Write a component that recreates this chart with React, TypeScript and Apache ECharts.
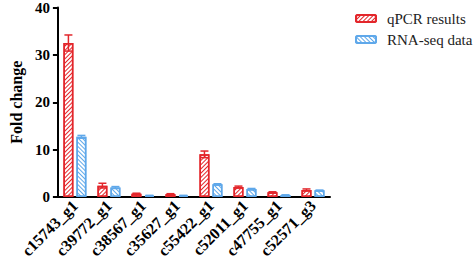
import React, { useEffect, useRef } from "react";
import * as echarts from "echarts";

const categories = ["c15743_g1", "c39772_g1", "c38567_g1", "c35627_g1", "c55422_g1", "c52011_g1", "c47755_g1", "c52571_g3"];
const qpcrValues = [32.5, 2.4, 0.7, 0.6, 9.0, 2.1, 1.0, 1.5];
const qpcrErrors = [1.7, 0.5, 0.1, 0.1, 0.7, 0.2, 0.1, 0.2];
const rnaValues = [12.7, 2.0, 0.3, 0.3, 2.7, 1.7, 0.4, 1.4];
const rnaErrors = [0.3, 0.2, 0.05, 0.05, 0.1, 0.1, 0.05, 0.05];
const yTicks = [0, 10, 20, 30, 40];

const RED = "#e3262b";
const BLUE = "#5fa8ea";
const FONT = "Times New Roman";

export default function App() {
  const ref = useRef<HTMLDivElement>(null);
  useEffect(() => {
    const chart = echarts.init(ref.current!, null, { renderer: "svg" });
    const errSeries = (vals: number[], errs: number[], color: string, offset: number, name: string) => ({
      type: "custom",
      name,
      z: 5,
      data: vals.map((v, i) => [i, v, errs[i]]),
      renderItem: (params: any, api: any) => {
        const i = api.value(0);
        const v = api.value(1);
        const e = api.value(2);
        const top = api.coord([i, v + e]);
        const bot = api.coord([i, v - e]);
        const x = top[0] + offset;
        const cap = 4;
        return {
          type: "group",
          children: [
            { type: "line", shape: { x1: x, y1: top[1], x2: x, y2: bot[1] }, style: { stroke: color, lineWidth: 1.5 } },
            { type: "line", shape: { x1: x - cap, y1: top[1], x2: x + cap, y2: top[1] }, style: { stroke: color, lineWidth: 1.5 } },
            { type: "line", shape: { x1: x - cap, y1: bot[1], x2: x + cap, y2: bot[1] }, style: { stroke: color, lineWidth: 1.5 } },
          ],
        };
      },
    });
    chart.setOption({
      animation: false,
      grid: { left: 42, right: 144, top: 7, bottom: 65 },
      legend: {
        orient: "vertical",
        left: 350,
        top: 5,
        itemWidth: 20,
        itemHeight: 7,
        itemGap: 4,
        data: ["qPCR results", "RNA-seq data"],
        textStyle: { fontFamily: FONT, fontSize: 15, color: "#222", lineHeight: 17, padding: [0, 0, 0, 6] },
      },
      xAxis: {
        type: "category",
        data: categories,
        axisLine: { lineStyle: { color: "#000", width: 2 } },
        axisTick: { alignWithLabel: true, length: 5, lineStyle: { color: "#000", width: 2 } },
        axisLabel: { rotate: 45, fontFamily: FONT, fontWeight: "bold", fontSize: 16, color: "#000", margin: 6 },
      },
      yAxis: {
        type: "value",
        min: yTicks[0],
        max: yTicks[yTicks.length - 1],
        interval: 10,
        name: "Fold change",
        nameLocation: "middle",
        nameGap: 30,
        nameTextStyle: { fontFamily: FONT, fontWeight: "bold", fontSize: 16, color: "#000" },
        splitLine: { show: false },
        axisLine: { show: true, lineStyle: { color: "#000", width: 2 } },
        axisTick: { show: true, length: 5, lineStyle: { color: "#000", width: 2 } },
        axisLabel: { fontFamily: FONT, fontWeight: "bold", fontSize: 15, color: "#000", margin: 8 },
      },
      series: [
        {
          type: "bar",
          name: "qPCR results",
          data: qpcrValues,
          barWidth: 10,
          barGap: "30%",
          itemStyle: {
            color: "#fff",
            borderColor: RED,
            borderWidth: 1.5,
            decal: { symbol: "rect", color: RED, dashArrayX: [1, 0], dashArrayY: [1, 2], rotation: -Math.PI / 4, symbolSize: 1 },
          },
        },
        {
          type: "bar",
          name: "RNA-seq data",
          data: rnaValues,
          barWidth: 10,
          itemStyle: {
            color: "#fff",
            borderColor: BLUE,
            borderWidth: 1.5,
            decal: { symbol: "rect", color: BLUE, dashArrayX: [1, 0], dashArrayY: [1, 2], rotation: Math.PI / 4, symbolSize: 1 },
          },
        },
        errSeries(qpcrValues, qpcrErrors, RED, -6.5, "qpcrErr"),
        errSeries(rnaValues, rnaErrors, BLUE, 6.5, "rnaErr"),
      ],
    });
    return () => chart.dispose();
  }, []);
  return <div ref={ref} style={{ width: 474, height: 262, position: "absolute", left: 0, top: 0 }} />;
}
